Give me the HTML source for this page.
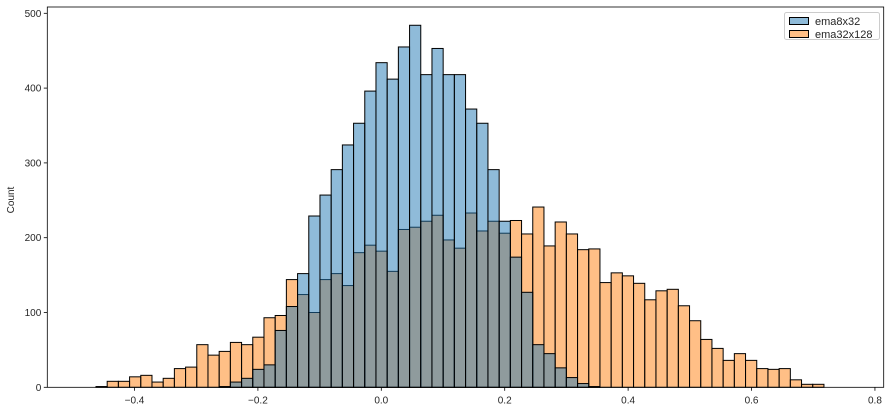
<!DOCTYPE html>
<html><head><meta charset="utf-8"><style>
html,body{margin:0;padding:0;background:#fff;}
svg{display:block;font-family:"Liberation Sans","DejaVu Sans",sans-serif;}
</style></head><body>
<svg id="chart" width="891" height="418" viewBox="0 0 891 418" xmlns="http://www.w3.org/2000/svg">
<g id="bars"></g>
<g id="axes"></g>
<g id="legend">
  <rect x="784.5" y="12.5" width="95" height="27" rx="2" fill="#fff" fill-opacity="0.8" stroke="#ccc" stroke-width="1"/>
  <rect x="789.5" y="17.5" width="19" height="7" fill="#1f77b4" fill-opacity="0.5" stroke="#000" stroke-width="1"/>
  <text x="815" y="25" font-size="11" fill="#262626">ema8x32</text>
  <rect x="789.5" y="30.5" width="19" height="7" fill="#ff7f0e" fill-opacity="0.5" stroke="#000" stroke-width="1"/>
  <text x="815" y="38" font-size="11" fill="#262626">ema32x128</text>
</g>
</svg>
<script>
const binStart = -0.4624;
const binWidth = 0.01815;
const seriesNames = ["ema8x32", "ema32x128"];
const ema8x32Counts = [0,0,0,0,0,0,0,0,0,0,0,1,7,12,24,30,76,108,152,229,257,291,324,353,396,434,412,455,484,418,453,418,418,372,353,291,222,174,127,57,45,26,13,5,1,0,0,0,0,0,0,0,0,0,0,0,0,0,0,0,0,0,0,0,0];
const ema32x128Counts = [1,8,8,14,16,7,12,25,27,57,43,48,60,57,67,93,96,144,124,100,144,152,136,180,190,182,155,211,214,222,230,197,186,233,209,222,206,223,205,241,189,221,205,184,185,140,153,149,139,117,129,131,109,89,64,52,36,45,36,25,24,25,10,4,4];
const xTicks = [-0.4,-0.2,0.0,0.2,0.4,0.6,0.8];
const xTickLabels = ["\u22120.4","\u22120.2","0.0","0.2","0.4","0.6","0.8"];
const yTicks = [0,100,200,300,400,500];
const yTickLabels = ["0","100","200","300","400","500"];

const NS = "http://www.w3.org/2000/svg";
const L = 47.3, R = 883.7, T = 7, B = 387.3;
const xMin = -0.5413, xMax = 0.8142, yMax = 500/ (B-13.3) * (B-T);
function xs(v){ return L + (v - xMin) / (xMax - xMin) * (R - L); }
function ys(v){ return B - v / yMax * (B - T); }
function mk(tag, attrs, parent){
  const e = document.createElementNS(NS, tag);
  for (const k in attrs) e.setAttribute(k, attrs[k]);
  parent.appendChild(e); return e;
}
const bars = document.getElementById("bars");
const fills = ["#1f77b4", "#ff7f0e"];
const seriesData = [ema8x32Counts, ema32x128Counts];
[1, 0].forEach((s) => {
  seriesData[s].forEach((c, i) => {
    if (c <= 0) return;
    const x0 = xs(binStart + i*binWidth), x1 = xs(binStart + (i+1)*binWidth);
    const r = mk("rect", {x:x0, y:ys(c), width:x1-x0, height:ys(0)-ys(c), fill:fills[s], "fill-opacity":0.5, stroke:"#000", "stroke-width":1}, bars);
    
    
  });
});
const axes = document.getElementById("axes");
const frame = mk("rect", {x:L, y:T, width:R-L, height:B-T, fill:"none", stroke:"#000", "stroke-width":0.8}, axes);


xTicks.forEach((v, i) => {
  const x = xs(v);
  const t = mk("line", {x1:x, x2:x, y1:B, y2:B+3.5, stroke:"#000", "stroke-width":0.8}, axes);
  
  
  const lb = mk("text", {x:x, y:B+16, "font-size":10, "text-anchor":"middle", fill:"#262626"}, axes);
  lb.textContent = xTickLabels[i];
  
  
});
yTicks.forEach((v, i) => {
  const y = ys(v);
  const t = mk("line", {x1:L-3.5, x2:L, y1:y, y2:y, stroke:"#000", "stroke-width":0.8}, axes);
  
  
  const lb = mk("text", {x:L-6, y:y+3.5, "font-size":10, "text-anchor":"end", fill:"#262626"}, axes);
  lb.textContent = yTickLabels[i];
  
  
});
const yt = mk("text", {x:0, y:0, "font-size":10, "text-anchor":"middle", fill:"#262626", transform:"translate(14,200) rotate(-90)"}, axes);
yt.textContent = "Count";


</script>
</body></html>
